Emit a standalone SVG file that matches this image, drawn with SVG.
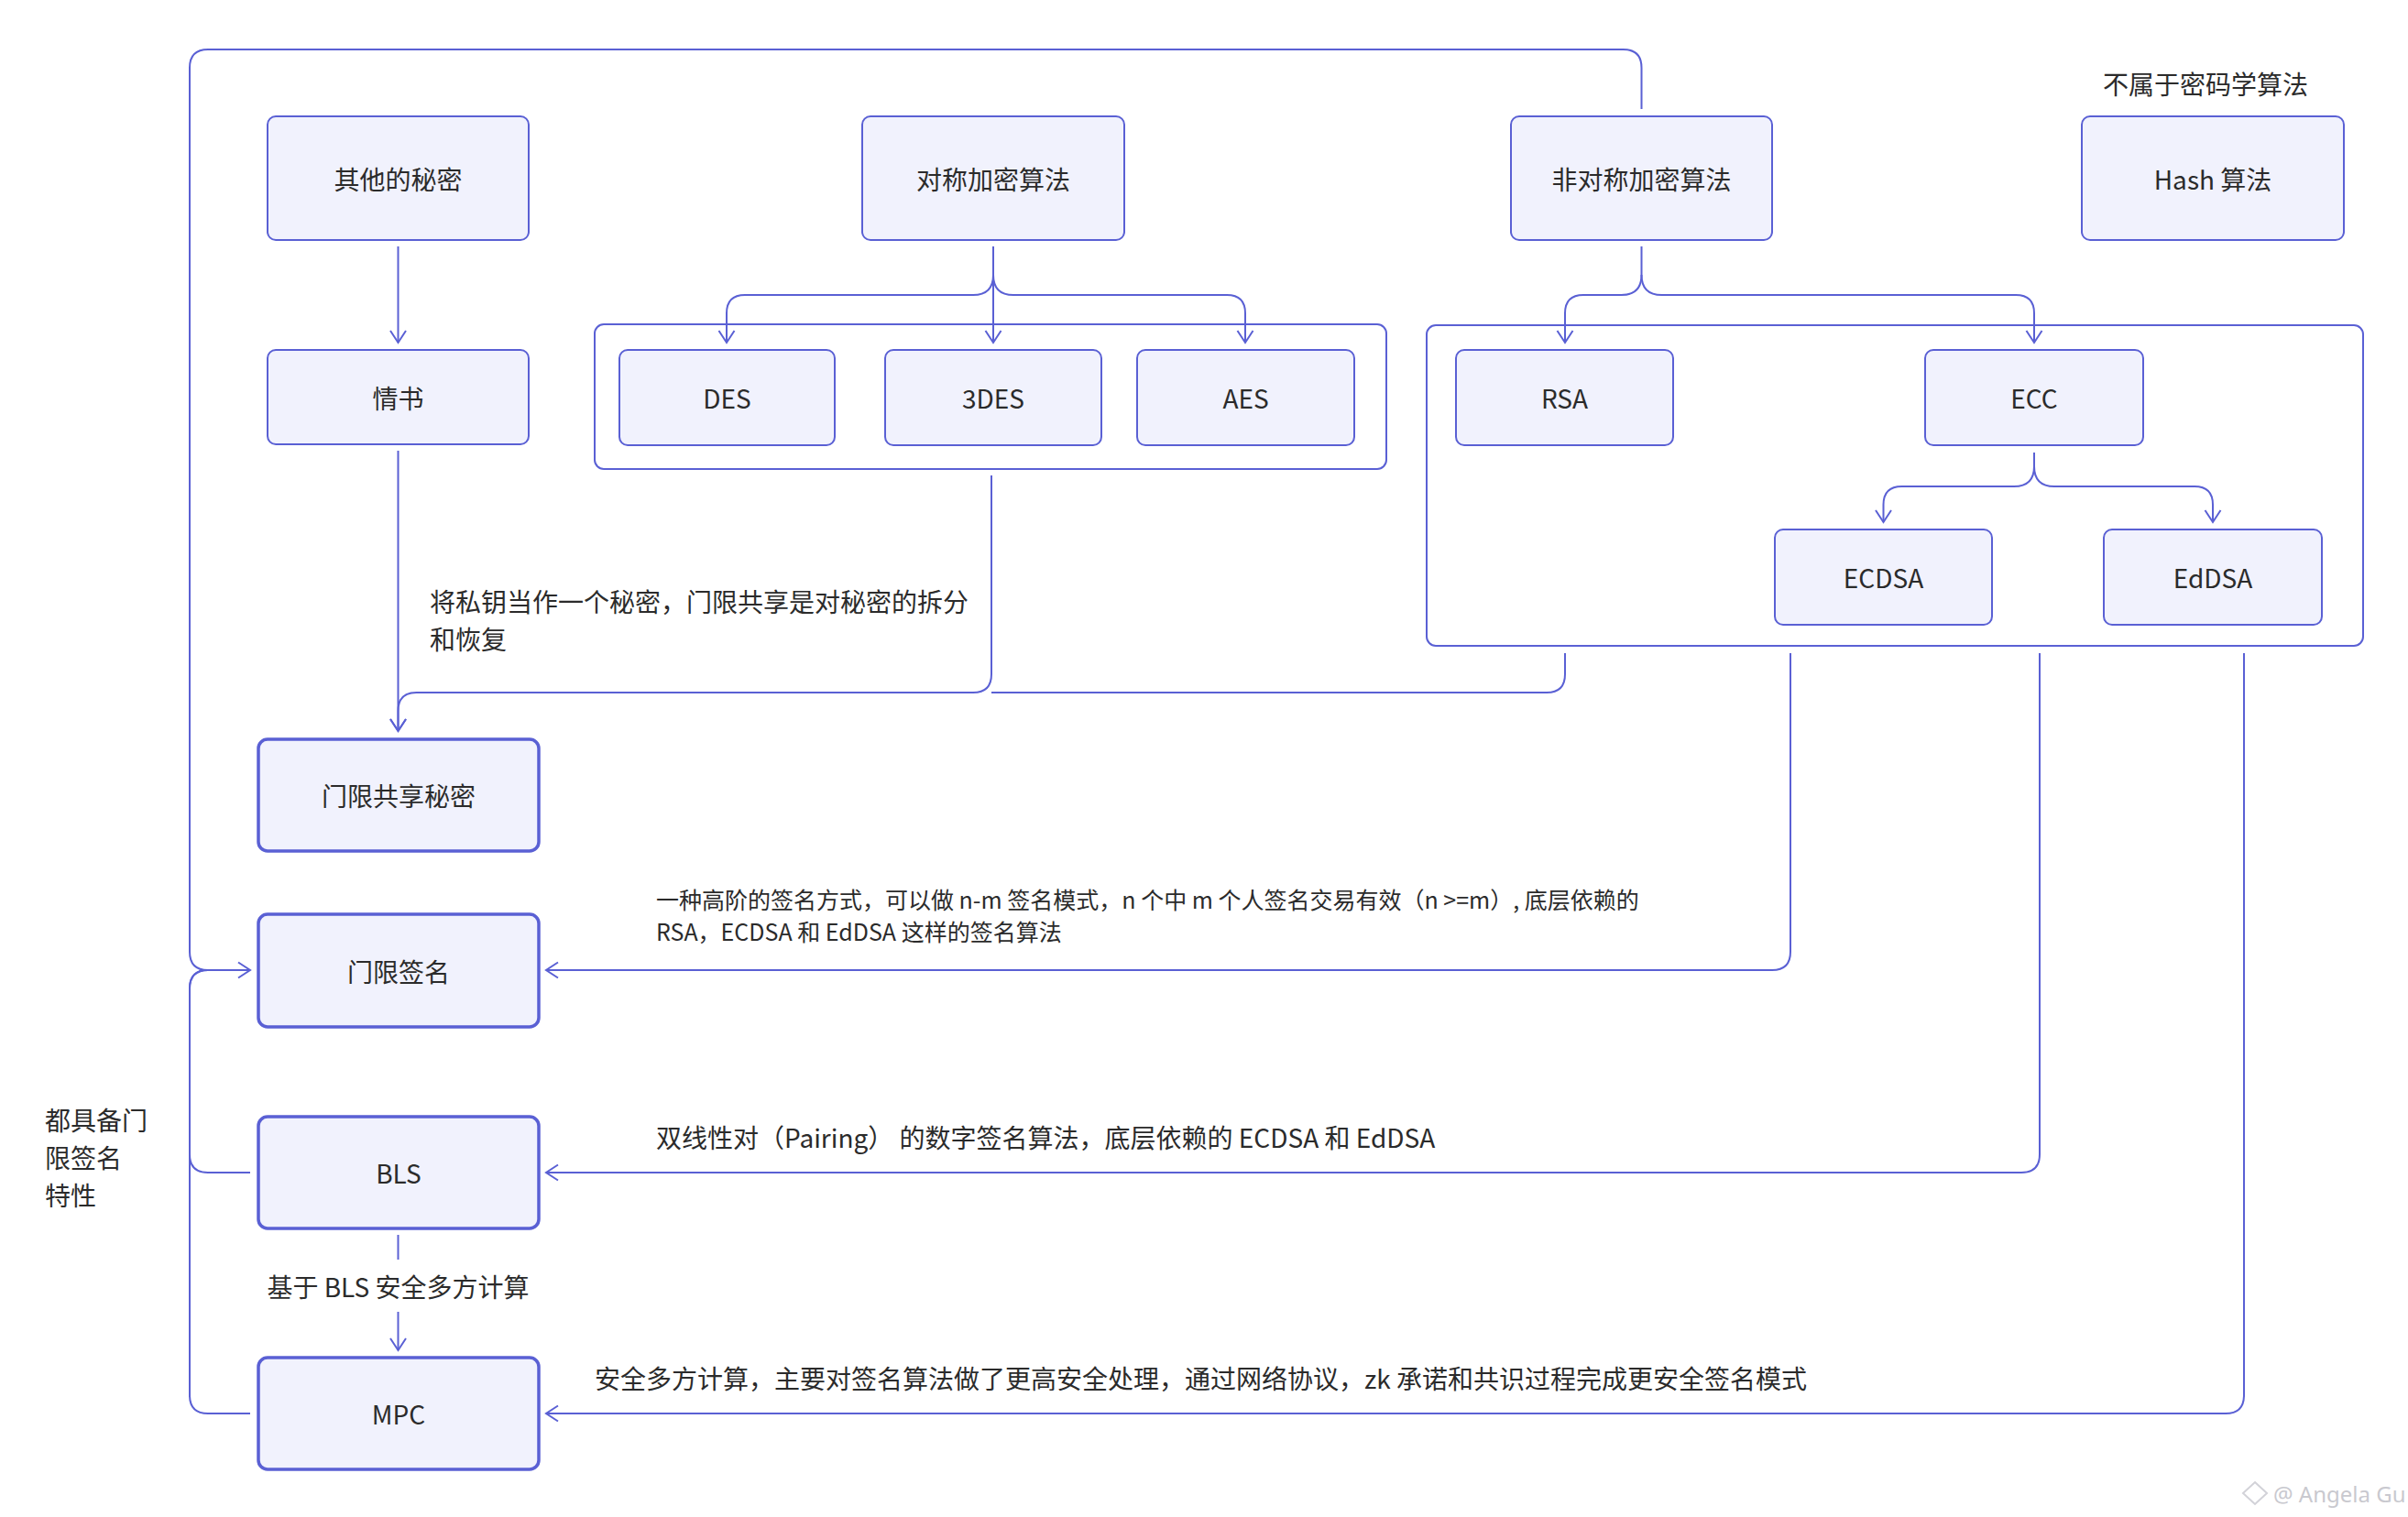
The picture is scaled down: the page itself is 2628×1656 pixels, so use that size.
<svg xmlns="http://www.w3.org/2000/svg" width="2628" height="1656" viewBox="0 0 2628 1656">
<defs>
<style>
.box{fill:#f1f2fd;stroke:#5a60d4;stroke-width:2}
.tbox{fill:#f1f2fd;stroke:#5a60d4;stroke-width:3.5}
.grp{fill:none;stroke:#5a60d4;stroke-width:2}
.ln{fill:none;stroke:#5a60d4;stroke-width:2}
.t{font-family:"Noto Sans CJK SC","Noto Sans",sans-serif;font-size:28px;fill:#2b2b2b;dominant-baseline:central}
.c{text-anchor:middle}
.s{font-size:25px}
.wm{font-family:"Noto Sans","Noto Sans CJK SC",sans-serif;font-size:24px;fill:#c9c9cf;dominant-baseline:central}
</style>
<marker id="ah" viewBox="0 0 20 20" refX="16" refY="10" markerWidth="20" markerHeight="20" markerUnits="userSpaceOnUse" orient="auto">
<path d="M3,1.5 L16,10 L3,18.5" fill="none" stroke="#5a60d4" stroke-width="2"/>
</marker>
</defs>
<rect width="2628" height="1656" fill="#ffffff"/>

<g id="groups">
<rect id="grp-sym" class="grp" x="649" y="354" width="864" height="158" rx="10"/>
<rect id="grp-asym" class="grp" x="1557" y="355" width="1022" height="350" rx="10"/>
</g>

<g id="connectors">
<path class="ln" d="M434.5 269 V374" marker-end="url(#ah)"/>
<path class="ln" d="M1084 269 V374" marker-end="url(#ah)"/>
<path class="ln" d="M1084 300 Q1084 322 1062 322 H813 Q793 322 793 342 V374" marker-end="url(#ah)"/>
<path class="ln" d="M1084 300 Q1084 322 1106 322 H1339 Q1359 322 1359 342 V374" marker-end="url(#ah)"/>
<path class="ln" d="M1791.5 269 V300 Q1791.5 322 1769.5 322 H1728 Q1708 322 1708 342 V374" marker-end="url(#ah)"/>
<path class="ln" d="M1791.5 300 Q1791.5 322 1813.5 322 H2200 Q2220 322 2220 342 V374" marker-end="url(#ah)"/>
<path class="ln" d="M2220 494 V509 Q2220 531 2198 531 H2075.5 Q2055.5 531 2055.5 551 V570" marker-end="url(#ah)"/>
<path class="ln" d="M2220 509 Q2220 531 2242 531 H2395 Q2415 531 2415 551 V570" marker-end="url(#ah)"/>
<path class="ln" d="M1791.5 119 V74 Q1791.5 54 1771.5 54 H227 Q207 54 207 74 V1039 Q207 1059 227 1059 H273" marker-end="url(#ah)"/>
<path class="ln" d="M273 1280 H227 Q207 1280 207 1260 V1079 Q207 1059 227 1059"/>
<path class="ln" d="M273 1543 H227 Q207 1543 207 1523 V1079 Q207 1059 227 1059"/>
<path class="ln" d="M434.5 492 V798" marker-end="url(#ah)"/>
<path class="ln" d="M1082 519 V736 Q1082 756 1062 756 H454.5 Q434.5 756 434.5 776 V798" marker-end="url(#ah)"/>
<path class="ln" d="M1708 713 V736 Q1708 756 1688 756 H1082"/>
<path class="ln" d="M1954 713 V1039 Q1954 1059 1934 1059 H596" marker-end="url(#ah)"/>
<path class="ln" d="M2226 713 V1260 Q2226 1280 2206 1280 H596" marker-end="url(#ah)"/>
<path class="ln" d="M2449 713 V1523 Q2449 1543 2429 1543 H596" marker-end="url(#ah)"/>
<path class="ln" d="M434.5 1348 V1375"/>
<path class="ln" d="M434.5 1432 V1474" marker-end="url(#ah)"/>
</g>

<g id="edge-labels">
<text class="t" x="469" y="656">将私钥当作一个秘密，门限共享是对秘密的拆分</text>
<text class="t" x="469" y="697">和恢复</text>
<text class="t s" x="716" y="981">一种高阶的签名方式，可以做 n-m 签名模式，n 个中 m 个人签名交易有效（n &gt;=m）, 底层依赖的</text>
<text class="t s" x="716" y="1016">RSA，ECDSA 和 EdDSA 这样的签名算法</text>
<text class="t" x="716" y="1241">双线性对（Pairing） 的数字签名算法，底层依赖的 ECDSA 和 EdDSA</text>
<text class="t" x="649" y="1504">安全多方计算，主要对签名算法做了更高安全处理，通过网络协议，zk 承诺和共识过程完成更安全签名模式</text>
<text class="t c" x="434.5" y="1404">基于 BLS 安全多方计算</text>
<text class="t" x="49" y="1222">都具备门</text>
<text class="t" x="49" y="1263">限签名</text>
<text class="t" x="49" y="1304">特性</text>
<text class="t c" x="2407" y="91">不属于密码学算法</text>
</g>

<g id="n-other"><rect class="box" x="292" y="127" width="285" height="135" rx="9"/><text class="t c" x="434.5" y="194.5">其他的秘密</text></g>
<g id="n-sym"><rect class="box" x="941" y="127" width="286" height="135" rx="9"/><text class="t c" x="1084" y="194.5">对称加密算法</text></g>
<g id="n-asym"><rect class="box" x="1649" y="127" width="285" height="135" rx="9"/><text class="t c" x="1791.5" y="194.5">非对称加密算法</text></g>
<g id="n-hash"><rect class="box" x="2272" y="127" width="286" height="135" rx="9"/><text class="t c" x="2415" y="194.5">Hash 算法</text></g>
<g id="n-love"><rect class="box" x="292" y="382" width="285" height="103" rx="9"/><text class="t c" x="434.5" y="433.5">情书</text></g>
<g id="n-des"><rect class="box" x="676" y="382" width="235" height="104" rx="9"/><text class="t c" x="793.5" y="434">DES</text></g>
<g id="n-3des"><rect class="box" x="966" y="382" width="236" height="104" rx="9"/><text class="t c" x="1084" y="434">3DES</text></g>
<g id="n-aes"><rect class="box" x="1241" y="382" width="237" height="104" rx="9"/><text class="t c" x="1359.5" y="434">AES</text></g>
<g id="n-rsa"><rect class="box" x="1589" y="382" width="237" height="104" rx="9"/><text class="t c" x="1707.5" y="434">RSA</text></g>
<g id="n-ecc"><rect class="box" x="2101" y="382" width="238" height="104" rx="9"/><text class="t c" x="2220" y="434">ECC</text></g>
<g id="n-ecdsa"><rect class="box" x="1937" y="578" width="237" height="104" rx="9"/><text class="t c" x="2055.5" y="630">ECDSA</text></g>
<g id="n-eddsa"><rect class="box" x="2296" y="578" width="238" height="104" rx="9"/><text class="t c" x="2415" y="630">EdDSA</text></g>
<g id="n-tss"><rect class="tbox" x="282" y="807" width="306" height="122" rx="10"/><text class="t c" x="435" y="868">门限共享秘密</text></g>
<g id="n-tsig"><rect class="tbox" x="282" y="998" width="306" height="123" rx="10"/><text class="t c" x="435" y="1059.5">门限签名</text></g>
<g id="n-bls"><rect class="tbox" x="282" y="1219" width="306" height="122" rx="10"/><text class="t c" x="435" y="1280">BLS</text></g>
<g id="n-mpc"><rect class="tbox" x="282" y="1482" width="306" height="122" rx="10"/><text class="t c" x="435" y="1543">MPC</text></g>

<g id="watermark">
<path d="M2461 1618 L2474 1630 L2461 1642 L2448 1630 Z" fill="none" stroke="#d2d2d8" stroke-width="2"/>
<text class="wm" x="2481" y="1630">@ Angela Gu</text>
</g>
</svg>
